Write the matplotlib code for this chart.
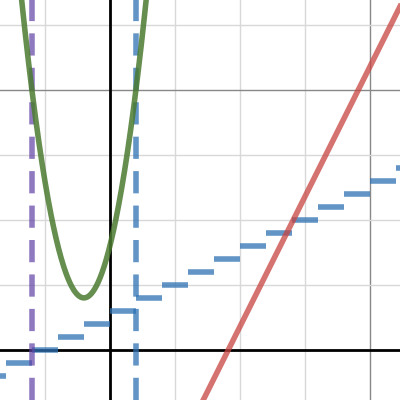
import numpy as np
import matplotlib.pyplot as plt

# view window (graph units)
X_MIN, X_MAX = -1.69, 4.46
Y_MIN, Y_MAX = -0.77, 5.38

# red line y = 2x - 3.64
line_slope = 2.0
line_intercept = -3.64

# green parabola y = a (x - h)^2 + k
par_a, par_h, par_k = 5.0, -0.4, 0.8

# vertical dashed asymptotes
asym_purple = -1.2
asym_blue = 0.4

# staircase steps: start x of each step and its level
step_starts = [-2.0, -1.6, -1.2, -0.8, -0.4, 0.0, 0.4, 0.8, 1.2, 1.6, 2.0, 2.4, 2.8, 3.2, 3.6, 4.0, 4.4]
step_levels = [-0.4, -0.2, 0.0, 0.2, 0.4, 0.6, 0.8, 1.0, 1.2, 1.4, 1.6, 1.8, 2.0, 2.2, 2.4, 2.6, 2.8]
step_width = 0.4

RED = "#c74440"
BLUE = "#2d70b3"
GREEN = "#4a7a30"
PURPLE = "#6042a6"

fig = plt.figure(figsize=(4, 4), dpi=100)
ax = fig.add_axes([0, 0, 1, 1])
ax.set_xlim(X_MIN, X_MAX)
ax.set_ylim(Y_MIN, Y_MAX)
ax.axis("off")

# grid
for gx in range(-1, 5):
    ax.axvline(gx, color="#888888" if gx == 4 else "#d8d8d8", lw=1, zorder=0)
for gy in range(0, 6):
    ax.axhline(gy, color="#888888" if gy == 4 else "#d8d8d8", lw=1, zorder=0)
ax.axhline(0, color="black", lw=2, zorder=1)
ax.axvline(0, color="black", lw=2, zorder=1)

# staircase
for s, lv in zip(step_starts, step_levels):
    ax.plot([s, s + step_width], [lv, lv], color=BLUE, alpha=0.75, lw=4,
            solid_capstyle="butt", zorder=2)

# asymptotes
ax.axvline(asym_purple, color=PURPLE, alpha=0.7, lw=4, ls=(0, (4, 2.2)), zorder=2)
ax.axvline(asym_blue, color=BLUE, alpha=0.75, lw=4, ls=(0, (4, 2.2)), zorder=2)

# parabola
xs = np.linspace(X_MIN, X_MAX, 800)
ax.plot(xs, par_a * (xs - par_h) ** 2 + par_k, color=GREEN, alpha=0.85, lw=4, zorder=3)

# red line
ax.plot(xs, line_slope * xs + line_intercept, color=RED, alpha=0.75, lw=4, zorder=3)

fig.savefig("out.png", dpi=100)
